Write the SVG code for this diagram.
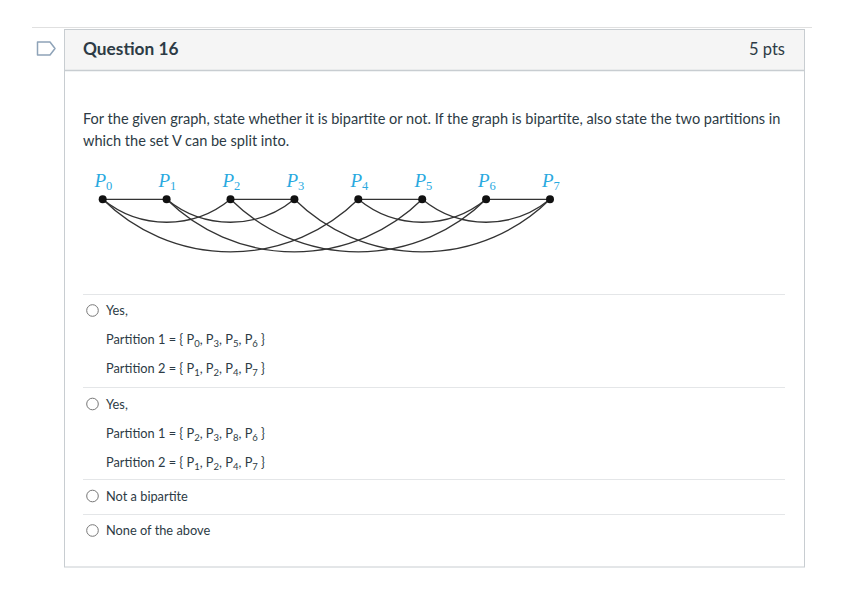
<svg xmlns="http://www.w3.org/2000/svg" width="850" height="591" viewBox="0 0 850 591">
<style>
  .t { font-family: Lato, "Open Sans", "Liberation Sans", sans-serif; fill: #2d3b45; }
  .body { font-size: 14.55px; }
  .opt { font-size: 12.8px; }
  .sub { font-size: 9.5px; }
  .lbl { font-family: "Liberation Serif", "DejaVu Serif", serif; font-style: italic; font-size: 19px; fill: #29a9e0; }
  .lsub { font-size: 12.5px; font-style: normal; }
  .edge { fill: none; stroke: #333; stroke-width: 1.3; }
  .node { fill: #111; }
  .sep { stroke: #e4e6e8; stroke-width: 1; }
  .radio { fill: #fff; stroke: #777; stroke-width: 1; }
</style>
<rect width="850" height="591" fill="#fff"/>
<line x1="32" y1="27.5" x2="812" y2="27.5" stroke="#e0e0e0" stroke-width="1"/>
<path d="M37.5 42 H50 L55 48.5 L50 55 H37.5 Z" fill="none" stroke="#8ea3b8" stroke-width="1.5" stroke-linejoin="round"/>
<rect x="64.5" y="29.5" width="740" height="537.5" fill="#fff" stroke="#c8cdd1" stroke-width="1"/>
<rect x="65" y="30" width="739" height="40" fill="#f5f5f5"/>
<line x1="65" y1="70.5" x2="804" y2="70.5" stroke="#c8cdd1" stroke-width="1.5"/>
<text class="t" x="83" y="55" font-size="17.3" font-weight="bold">Question 16</text>
<text class="t" x="785" y="55" font-size="16.5" text-anchor="end">5 pts</text>
<text class="t body" x="83" y="124">For the given graph, state whether it is bipartite or not. If the graph is bipartite, also state the two partitions in</text>
<text class="t body" x="83" y="146">which the set V can be split into.</text>

<g id="connectors">
  <line class="edge" x1="102.7" y1="199.3" x2="166.6" y2="199.3"/>
  <line class="edge" x1="230.5" y1="199.3" x2="294.4" y2="199.3"/>
  <line class="edge" x1="358.3" y1="199.3" x2="422.2" y2="199.3"/>
  <line class="edge" x1="486.1" y1="199.3" x2="550" y2="199.3"/>
  <path class="edge" d="M102.7 199.3 A100.5 100.5 0 0 0 230.5 199.3"/>
  <path class="edge" d="M166.6 199.3 A100.5 100.5 0 0 0 294.4 199.3"/>
  <path class="edge" d="M358.3 199.3 A100.5 100.5 0 0 0 486.1 199.3"/>
  <path class="edge" d="M422.2 199.3 A100.5 100.5 0 0 0 550 199.3"/>
  <path class="edge" d="M102.7 199.3 A181.7 181.7 0 0 0 358.3 199.3"/>
  <path class="edge" d="M166.6 199.3 A181.7 181.7 0 0 0 422.2 199.3"/>
  <path class="edge" d="M230.5 199.3 A181.7 181.7 0 0 0 486.1 199.3"/>
  <path class="edge" d="M294.4 199.3 A181.7 181.7 0 0 0 550 199.3"/>
</g>
<g id="n0"><circle class="node" cx="102.7" cy="199.3" r="4"/><text class="lbl" x="94.5" y="187">P<tspan class="lsub" dy="3">0</tspan></text></g>
<g id="n1"><circle class="node" cx="166.6" cy="199.3" r="4"/><text class="lbl" x="158.5" y="187">P<tspan class="lsub" dy="3">1</tspan></text></g>
<g id="n2"><circle class="node" cx="230.5" cy="199.3" r="4"/><text class="lbl" x="222.5" y="187">P<tspan class="lsub" dy="3">2</tspan></text></g>
<g id="n3"><circle class="node" cx="294.4" cy="199.3" r="4"/><text class="lbl" x="286.5" y="187">P<tspan class="lsub" dy="3">3</tspan></text></g>
<g id="n4"><circle class="node" cx="358.3" cy="199.3" r="4"/><text class="lbl" x="350.5" y="187">P<tspan class="lsub" dy="3">4</tspan></text></g>
<g id="n5"><circle class="node" cx="422.2" cy="199.3" r="4"/><text class="lbl" x="414.5" y="187">P<tspan class="lsub" dy="3">5</tspan></text></g>
<g id="n6"><circle class="node" cx="486.1" cy="199.3" r="4"/><text class="lbl" x="478" y="187">P<tspan class="lsub" dy="3">6</tspan></text></g>
<g id="n7"><circle class="node" cx="550" cy="199.3" r="4"/><text class="lbl" x="542" y="187">P<tspan class="lsub" dy="3">7</tspan></text></g>

<line class="sep" x1="83" y1="294.5" x2="785" y2="294.5"/>
<circle class="radio" cx="92.5" cy="310.5" r="5.8"/>
<text class="t opt" x="106" y="315">Yes,</text>
<text class="t opt" x="106" y="344">Partition 1 = { P<tspan class="sub" dy="3">0</tspan><tspan dy="-3">, P</tspan><tspan class="sub" dy="3">3</tspan><tspan dy="-3">, P</tspan><tspan class="sub" dy="3">5</tspan><tspan dy="-3">, P</tspan><tspan class="sub" dy="3">6</tspan><tspan dy="-3"> }</tspan></text>
<text class="t opt" x="106" y="373">Partition 2 = { P<tspan class="sub" dy="3">1</tspan><tspan dy="-3">, P</tspan><tspan class="sub" dy="3">2</tspan><tspan dy="-3">, P</tspan><tspan class="sub" dy="3">4</tspan><tspan dy="-3">, P</tspan><tspan class="sub" dy="3">7</tspan><tspan dy="-3"> }</tspan></text>

<line class="sep" x1="83" y1="387.5" x2="785" y2="387.5"/>
<circle class="radio" cx="92.5" cy="404" r="5.8"/>
<text class="t opt" x="106" y="408.5">Yes,</text>
<text class="t opt" x="106" y="437.5">Partition 1 = { P<tspan class="sub" dy="3">2</tspan><tspan dy="-3">, P</tspan><tspan class="sub" dy="3">3</tspan><tspan dy="-3">, P</tspan><tspan class="sub" dy="3">8</tspan><tspan dy="-3">, P</tspan><tspan class="sub" dy="3">6</tspan><tspan dy="-3"> }</tspan></text>
<text class="t opt" x="106" y="466.5">Partition 2 = { P<tspan class="sub" dy="3">1</tspan><tspan dy="-3">, P</tspan><tspan class="sub" dy="3">2</tspan><tspan dy="-3">, P</tspan><tspan class="sub" dy="3">4</tspan><tspan dy="-3">, P</tspan><tspan class="sub" dy="3">7</tspan><tspan dy="-3"> }</tspan></text>

<line class="sep" x1="83" y1="479.5" x2="785" y2="479.5"/>
<circle class="radio" cx="92.5" cy="496" r="5.8"/>
<text class="t opt" x="106" y="500.5">Not a bipartite</text>

<line class="sep" x1="83" y1="514.5" x2="785" y2="514.5"/>
<circle class="radio" cx="92.5" cy="530.5" r="5.8"/>
<text class="t opt" x="106" y="535">None of the above</text>
</svg>
